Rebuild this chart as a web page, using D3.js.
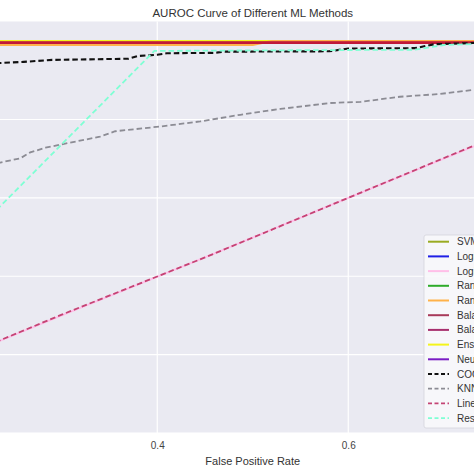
<!doctype html>
<html>
<head>
    <title>AUROC Curve of Different ML Methods</title>
    <script src="https://d3js.org/d3.v7.min.js"></script>
    <style>
      body {
        padding: 0px;
        margin: 0px;
        background: #fff;
      }
      svg text {
        font-family: "Liberation Sans", Arial, sans-serif;
      }
    </style>
</head>
<body>
  <div id="container"></div>
  <script>

  // ROC points [fpr, tpr]
  var svmRoc = [[0,0],[0.02,0.93],[0.06,0.98],[0.12,0.995],[0.2,1],[1,1]]
  var logRoc = [[0,0],[0.02,0.94],[0.06,0.985],[0.12,0.997],[0.2,1],[1,1]]
  var logCvRoc = [[0,0],[0.15,0.15],[0.3,0.3],[0.45,0.448],[0.6,0.6],[0.75,0.75],[1,1]]
  var rfRoc = [[0,0],[0.01,0.96],[0.05,0.99],[0.1,1],[1,1]]
  var rf2Roc = [[0,0],[0.02,0.95],[0.08,0.985],[0.2,0.99],[0.5,0.99],[0.52,1],[1,1]]
  var bal1Roc = [[0,0],[0.02,0.95],[0.08,0.99],[0.2,0.996],[1,0.996]]
  var bal2Roc = [[0,0],[0.02,0.96],[0.08,0.99],[0.2,0.996],[1,0.996]]
  var ensRoc = [[0,0],[0.01,0.97],[0.05,0.995],[0.1,1],[1,1]]
  var nnRoc = [[0,0],[0.02,0.94],[0.08,0.985],[0.2,0.992],[0.28,0.992],[0.29,0.996],[1,0.996]]
  var cooRoc = [[0,0],[0.02,0.7],[0.05,0.85],[0.1,0.9],[0.2,0.94],[0.26,0.947],[0.29,0.952],
                [0.37,0.955],[0.38,0.962],[0.40,0.965],[0.41,0.969],[0.46,0.97],[0.47,0.973],
                [0.58,0.974],[0.6,0.981],[0.67,0.982],[0.69,0.992],[0.73,0.995],[1,1]]
  var knnRoc = [[0,0],[0.05,0.4],[0.1,0.52],[0.15,0.6],[0.2,0.66],[0.2356,0.690],[0.2566,0.701],
                [0.267,0.716],[0.283,0.728],[0.319,0.746],[0.340,0.756],[0.356,0.770],[0.403,0.782],
                [0.445,0.795],[0.487,0.812],[0.529,0.827],[0.581,0.842],[0.613,0.845],[0.654,0.858],
                [0.696,0.865],[0.732,0.876],[0.8,0.9],[0.9,0.94],[1,1]]
  var linRoc = [[0,0],[0.15,0.15],[0.3,0.302],[0.45,0.448],[0.6,0.6],[0.75,0.752],[1,1]]
  var resRoc = [[0,0],[0.397,0.975],[0.67,0.978],[0.7,0.99],[0.74,0.993],[1,1]]

  var names = ["SVM","Logistic Regression","Logistic Regression CV","Random Forest","Random Forest (tuned)",
               "Balanced Random Forest","Balanced Bagging","Ensemble","Neural Network","COOL","KNN",
               "Linear Regression","ResNet"]
  var series = [svmRoc, logRoc, logCvRoc, rfRoc, rf2Roc, bal1Roc, bal2Roc, ensRoc, nnRoc, cooRoc, knnRoc, linRoc, resRoc]
  var colors = ["#9aab22","#1f1fe6","#ffbfe8","#2eab2a","#ffb24a","#a83a5a","#a8306e","#f4f41c","#7a1cc4",
                "#111111","#8c8c94","#c44474","#7fffd4"]
  var lineColors = colors.map((c, i) => i === 6 ? "#c01838" : c)
  var widths = [2,2,2,2,2,2,2.8,2,2,2.1,1.8,1.8,1.8]
  var dashed = [false,false,false,false,false,false,false,false,false,true,true,true,true]
  // paint order: curves at TPR=1 sit under the ensemble, the balanced ones on top
  var drawOrder = [8,0,1,3,7,2,4,5,6,9,10,11,12]

  var xTicks = [0.0,0.2,0.4,0.6,0.8,1.0]
  var yTicks = [0.0,0.2,0.4,0.6,0.8,1.0]

  var W = 474, H = 474

  var viz = d3.select("#container").append("svg")
      .attr("width", W)
      .attr("height", H)

  // the picture is a crop of a wider figure: the axes run past both edges
  var x = d3.scaleLinear().domain([-0.05, 1.05]).range([-272.5, 778])
  var y = d3.scaleLinear().domain([0, 1.05]).range([433, 21.5])

  var plot = viz.append("g").attr("class","plot")

  plot.append("rect")
      .attr("x", x(-0.05)).attr("y", y(1.05))
      .attr("width", x(1.05) - x(-0.05))
      .attr("height", y(0) - y(1.05))
      .attr("fill", "#eaeaf2")

  plot.append("g").selectAll("line").data(xTicks)
    .enter().append("line")
      .attr("x1", d => x(d)).attr("x2", d => x(d))
      .attr("y1", y(1.05)).attr("y2", y(0))
      .attr("stroke", "#fff").attr("stroke-width", 1.2)

  plot.append("g").selectAll("line").data(yTicks)
    .enter().append("line")
      .attr("x1", x(-0.05)).attr("x2", x(1.05))
      .attr("y1", d => y(d)).attr("y2", d => y(d))
      .attr("stroke", "#fff").attr("stroke-width", 1.2)

  var line = d3.line().x(d => x(d[0])).y(d => y(d[1]))

  plot.append("g").selectAll("path").data(drawOrder)
    .enter().append("path")
      .attr("d", i => line(series[i]))
      .attr("fill", "none")
      .attr("stroke", i => lineColors[i])
      .attr("stroke-width", i => widths[i])
      .attr("stroke-dasharray", i => dashed[i] ? "5.5,3" : null)

  // x tick labels (only 0.4 and 0.6 fall inside the crop)
  var xAxis = d3.axisBottom(x).tickValues(xTicks.filter(t => x(t) > 0 && x(t) < W))
      .tickSize(0).tickPadding(0).tickFormat(d3.format(".1f"))
  var xg = viz.append("g").attr("transform", "translate(0," + 433 + ")").call(xAxis)
  xg.select(".domain").remove()
  xg.selectAll("text")
      .attr("y", 9)
      .attr("fill", "#444")
      .style("font-size", "10px")
      .style("font-family", "'Liberation Sans', Arial, sans-serif")

  viz.append("text")
      .attr("x", x(0.5)).attr("y", 465)
      .attr("text-anchor", "middle")
      .attr("fill", "#333")
      .style("font-size", "11px")
      .text("False Positive Rate")

  viz.append("text")
      .attr("x", x(0.5)).attr("y", 17)
      .attr("text-anchor", "middle")
      .attr("fill", "#333")
      .style("font-size", "11.5px")
      .text("AUROC Curve of Different ML Methods")

  // legend (runs off the right edge, as in the crop)
  var legend = viz.append("g").attr("transform", "translate(424,235)")
  legend.append("rect")
      .attr("x", 0).attr("y", 0)
      .attr("width", 140).attr("height", 193)
      .attr("rx", 2)
      .attr("fill", "#f8f8fb").attr("fill-opacity", 0.9)
      .attr("stroke", "#d4d4dc").attr("stroke-width", 0.8)

  var item = legend.selectAll("g.item").data(names)
    .enter().append("g")
      .attr("class", "item")
      .attr("transform", (d, i) => "translate(0," + (6.7 + i * 14.7) + ")")

  item.append("line")
      .attr("x1", 4).attr("x2", 25)
      .attr("stroke", (d, i) => colors[i])
      .attr("stroke-width", (d, i) => dashed[i] ? 1.8 : 2)
      .attr("stroke-dasharray", (d, i) => dashed[i] ? "4,2.5" : null)

  item.append("text")
      .attr("x", 33).attr("dy", "0.35em")
      .attr("fill", "#333")
      .style("font-size", "10px")
      .text(d => d)

  </script>
</body>
</html>
